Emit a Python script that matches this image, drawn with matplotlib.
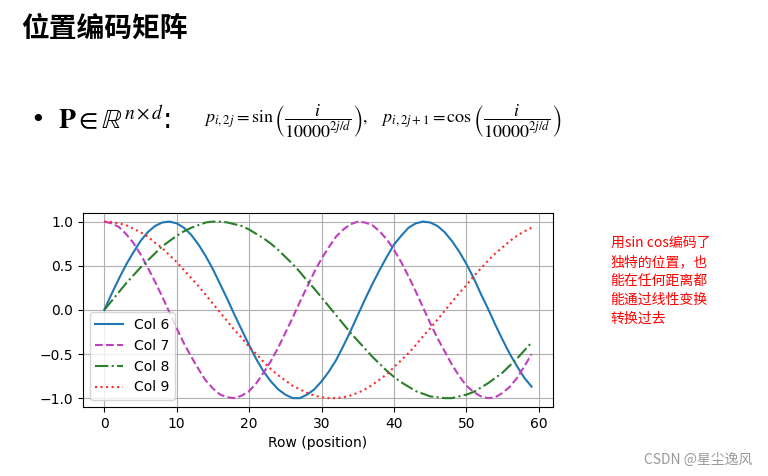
import matplotlib.pyplot as plt

plt.rcParams['font.family'] = ['DejaVu Sans', 'Noto Sans CJK SC']
plt.rcParams['mathtext.fontset'] = 'stix'
cjk = ['Noto Sans CJK SC', 'DejaVu Sans']

rows = list(range(60))
col6 = [0, .18, .35, .51, .65, .78, .88, .95, .99, 1.00, .98, .93, .85, .74, .61, .46, .29, .12, -.06, -.23,
        -.40, -.56, -.70, -.81, -.90, -.96, -1.00, -1.00, -.96, -.90, -.81, -.70, -.57, -.41, -.24, -.06, .12, .29, .45, .60,
        .74, .84, .93, .98, 1.00, .99, .95, .88, .78, .66, .52, .36, .18, .01, -.17, -.34, -.50, -.64, -.77, -.87]
col7 = [1.00, .98, .94, .86, .76, .63, .48, .32, .15, -.03, -.21, -.38, -.53, -.67, -.80, -.89, -.96, -.99, -1.00, -.97,
        -.92, -.83, -.71, -.58, -.43, -.26, -.09, .09, .26, .43, .58, .71, .83, .91, .97, 1.00, .99, .96, .89, .80,
        .68, .54, .38, .21, .03, -.15, -.32, -.47, -.62, -.75, -.86, -.93, -.98, -1.00, -.99, -.94, -.87, -.77, -.64, -.50]
col8 = [0, .10, .20, .30, .39, .48, .56, .64, .72, .78, .84, .89, .93, .96, .99, 1.00, 1.00, .99, .97, .95,
        .91, .86, .81, .75, .68, .60, .52, .43, .33, .24, .14, .04, -.06, -.16, -.26, -.35, -.44, -.53, -.61, -.69,
        -.76, -.82, -.87, -.92, -.95, -.98, -.99, -1.00, -1.00, -.98, -.96, -.93, -.88, -.83, -.77, -.71, -.63, -.55, -.46, -.37]
col9 = [1.00, .995, .98, .96, .92, .88, .83, .76, .70, .62, .54, .45, .36, .27, .17, .07, -.03, -.13, -.23, -.32,
        -.42, -.50, -.59, -.67, -.74, -.80, -.86, -.90, -.94, -.97, -.99, -1.00, -1.00, -.99, -.97, -.94, -.90, -.85, -.79, -.73,
        -.65, -.57, -.49, -.40, -.30, -.21, -.11, -.01, .09, .19, .28, .38, .47, .56, .64, .71, .78, .84, .89, .93]

fig = plt.figure(figsize=(7.68, 4.76), dpi=100)

# slide text
fig.text(0.028, 0.94, '位置编码矩阵', fontsize=20, fontweight='bold', va='center', family=cjk)
fig.text(0.04, 0.748, '•', fontsize=18, va='center')
fig.text(0.075, 0.748, r'$\mathbf{P}\in\mathbb{R}^{n\times d}$:', fontsize=20, va='center')
fig.text(0.265, 0.745,
         r'$p_{i,2j}=\sin\left(\dfrac{i}{10000^{2j/d}}\right),\quad p_{i,2j+1}=\cos\left(\dfrac{i}{10000^{2j/d}}\right)$',
         fontsize=13, va='center')
fig.text(0.795, 0.41, '用sin cos编码了\n独特的位置，也\n能在任何距离都\n能通过线性变换\n转换过去',
         color='red', fontsize=10, va='center', linespacing=1.45, family=cjk)
fig.text(0.98, 0.035, 'CSDN @星尘逸风', color='#999999', fontsize=10, ha='right', va='center', family=cjk)

# chart
ax = fig.add_axes([0.108, 0.145, 0.612, 0.408])
ax.plot(rows, col6, '-', color='#1f77b4', label='Col 6')
ax.plot(rows, col7, '--', color='#bf40bf', label='Col 7')
ax.plot(rows, col8, '-.', color='#2a7f2a', label='Col 8')
ax.plot(rows, col9, ':', color='#ff2a2a', label='Col 9')
ax.set_xlabel('Row (position)', fontsize=10)
ax.set_xticks([0, 10, 20, 30, 40, 50, 60])
ax.set_yticks([-1.0, -0.5, 0.0, 0.5, 1.0])
ax.tick_params(labelsize=10)
ax.grid(True)
ax.legend(loc='lower left', fontsize=10)

fig.savefig('out.png', dpi=100)
